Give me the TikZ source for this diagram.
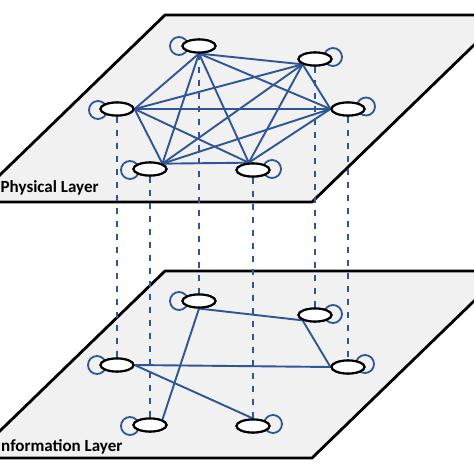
\documentclass[tikz,border=0pt]{standalone}
\usepackage{fontspec}
\setmainfont{Carlito}
\usetikzlibrary{shapes.geometric}
\definecolor{edgeblue}{RGB}{47,85,151}
\definecolor{planegray}{RGB}{241,241,241}
\tikzset{
  plane/.style={fill=planegray, draw=black, line width=2.8pt, line join=miter},
  vnode/.style={ellipse, draw=black, fill=white, line width=2.1pt, minimum width=33pt, minimum height=13pt, inner sep=0pt},
  link/.style={draw=edgeblue, line width=1.9pt},
  selfloop/.style={draw=edgeblue, line width=1.8pt},
  vdash/.style={draw=edgeblue, line width=2pt, dash pattern=on 6.5pt off 6.5pt},
  layerlabel/.style={font=\bfseries\fontsize{17}{20}\selectfont, inner sep=0pt, anchor=base west}
}
\begin{document}
\begin{tikzpicture}[x=1pt, y=-1pt]
\useasboundingbox (0,0) rectangle (474,474);
\clip (0,0) rectangle (474,474);
% planes
\draw[plane] (165,15) -- (505,15) -- (312,202) -- (-28,202) -- cycle;
\draw[plane] (165,271) -- (505,271) -- (312,458) -- (-28,458) -- cycle;
% labels
\node[layerlabel] (lab1) at (0.5,192) {Physical Layer};
\node[layerlabel] (lab2) at (-3.5,451) {Information Layer};
% node positions (coordinates)
\coordinate (c1) at (199,46);
\coordinate (c2) at (315,59);
\coordinate (c3) at (117,109);
\coordinate (c4) at (348,109);
\coordinate (c5) at (150,169);
\coordinate (c6) at (253,170);
\coordinate (d1) at (199,301);
\coordinate (d2) at (315,315);
\coordinate (d3) at (117,365);
\coordinate (d4) at (348,367);
\coordinate (d5) at (150,425);
\coordinate (d6) at (253,426);
% self loops
\draw[selfloop] ([shift={(-20,0)}]c1) circle[radius=9pt];
\draw[selfloop] ([shift={(18,-2)}]c2) circle[radius=9pt];
\draw[selfloop] ([shift={(-19,1)}]c3) circle[radius=9pt];
\draw[selfloop] ([shift={(18,-2.5)}]c4) circle[radius=9pt];
\draw[selfloop] ([shift={(-20,1)}]c5) circle[radius=9pt];
\draw[selfloop] ([shift={(19,-1)}]c6) circle[radius=9pt];
\draw[selfloop] ([shift={(-20,0)}]d1) circle[radius=9pt];
\draw[selfloop] ([shift={(18,-1)}]d2) circle[radius=9pt];
\draw[selfloop] ([shift={(-20,0)}]d3) circle[radius=9pt];
\draw[selfloop] ([shift={(17,-3)}]d4) circle[radius=9pt];
\draw[selfloop] ([shift={(-20,1)}]d5) circle[radius=9pt];
\draw[selfloop] ([shift={(20,-2)}]d6) circle[radius=9pt];
% nodes
\node[vnode] (N1) at (c1) {};
\node[vnode] (N2) at (c2) {};
\node[vnode] (N3) at (c3) {};
\node[vnode] (N4) at (c4) {};
\node[vnode] (N5) at (c5) {};
\node[vnode] (N6) at (c6) {};
\node[vnode] (M1) at (d1) {};
\node[vnode] (M2) at (d2) {};
\node[vnode] (M3) at (d3) {};
\node[vnode] (M4) at (d4) {};
\node[vnode] (M5) at (d5) {};
\node[vnode] (M6) at (d6) {};
% dashed inter-layer links
\draw[vdash] (N1.south) -- (M1.north);
\draw[vdash] (N2.south) -- (M2.north);
\draw[vdash] (N3.south) -- (M3.north);
\draw[vdash] (N4.south) -- (M4.north);
\draw[vdash] (N5.south) -- (M5.north);
\draw[vdash] (N6.south) -- (M6.north);
% physical layer: complete graph
\draw[link] (N1.south) -- (N2.south west);
\draw[link] (N1.south) -- (N3.east);
\draw[link] (N1.south) -- (N4.west);
\draw[link] (N1.south) -- (N5.north east);
\draw[link] (N1.south) -- (N6.120);
\draw[link] (N2.south west) -- (N3.east);
\draw[link] (N2.south west) -- (N4.west);
\draw[link] (N2.south west) -- (N5.north east);
\draw[link] (N2.south west) -- (N6.120);
\draw[link] (N3.east) -- (N4.west);
\draw[link] (N3.east) -- (N5.north east);
\draw[link] (N3.east) -- (N6.120);
\draw[link] (N4.west) -- (N5.north east);
\draw[link] (N4.west) -- (N6.120);
\draw[link] (N5.north east) -- (N6.120);
% information layer
\draw[link] (M1.south) -- (M2.south west);
\draw[link] (M1.south) -- (M5.north east);
\draw[link] (M2.south west) -- (M4.west);
\draw[link] (M3.east) -- (M4.west);
\draw[link] (M3.east) -- (M6.north);
% redraw nodes on top of links
\node[vnode] at (c1) {};
\node[vnode] at (c2) {};
\node[vnode] at (c3) {};
\node[vnode] at (c4) {};
\node[vnode] at (c5) {};
\node[vnode] at (c6) {};
\node[vnode] at (d1) {};
\node[vnode] at (d2) {};
\node[vnode] at (d3) {};
\node[vnode] at (d4) {};
\node[vnode] at (d5) {};
\node[vnode] at (d6) {};
\end{tikzpicture}
\end{document}
